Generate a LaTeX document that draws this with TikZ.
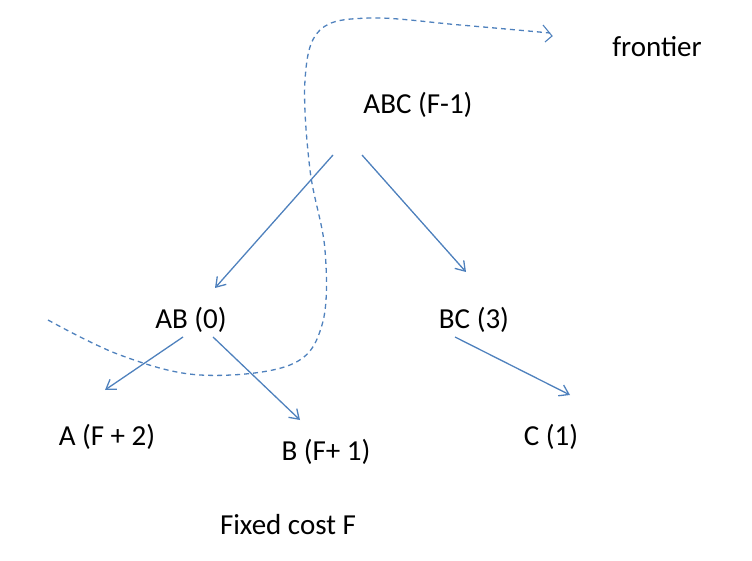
\documentclass[tikz,border=0pt]{standalone}
\usepackage{fontspec}
\setmainfont{Carlito}
\usetikzlibrary{arrows.meta}
\definecolor{ab}{RGB}{79,129,189}
\begin{document}
\begin{tikzpicture}[x=1pt,y=-1pt,
  lbl/.style={font=\fontsize{29}{32}\selectfont, inner sep=0pt, anchor=center},
  arr/.style={draw=ab, line width=1.3pt, -{Straight Barb[length=9pt,width=12pt]}},
  fr/.style={draw=ab, line width=1.3pt, dash pattern=on 5pt off 4pt}]
\useasboundingbox (0,0) rectangle (752,561);
\node[lbl] (fr) at (657,47) {frontier};
\node[lbl] (abc) at (418,105) {ABC (F-1)};
\node[lbl] (ab) at (191,320) {AB (0)};
\node[lbl] (bc) at (474,320) {BC (3)};
\node[lbl] (a) at (107,437) {A (F + 2)};
\node[lbl] (b) at (326,452) {B (F+ 1)};
\node[lbl] (c) at (551,437) {C (1)};
\node[lbl] (fc) at (288,525) {Fixed cost F};
\coordinate (s1) at (333,155); \coordinate (e1) at (215,288);
\coordinate (s2) at (362,155); \coordinate (e2) at (466,272);
\coordinate (s3) at (183,337); \coordinate (e3) at (105,390);
\coordinate (s4) at (213,337); \coordinate (e4) at (300,420);
\coordinate (s5) at (455,337); \coordinate (e5) at (570,395);
\draw[arr] (s1) -- (e1);
\draw[arr] (s2) -- (e2);
\draw[arr] (s3) -- (e3);
\draw[arr] (s4) -- (e4);
\draw[arr] (s5) -- (e5);
\coordinate (f0) at (48,320);
\coordinate (f9) at (550,33);
\draw[fr] plot[smooth, tension=0.6] coordinates {(48,320) (120,355) (200,375) (290,365) (322,325) (325,250) (310,170) (305,80) (320,30) (370,18) (460,25) (550,33)};
\draw[ab, line width=1.1pt] (543,25) -- (552,36) -- (545,42);
\end{tikzpicture}
\end{document}
